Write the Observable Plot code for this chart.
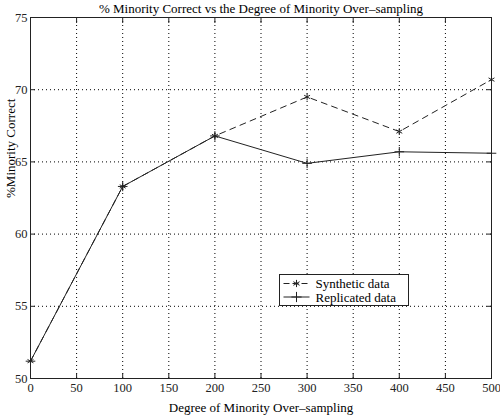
<!DOCTYPE html>
<html>
<head>
<meta charset="utf-8">
<script src="https://cdn.jsdelivr.net/npm/d3@7"></script>
<script src="https://cdn.jsdelivr.net/npm/@observablehq/plot@0.6"></script>
<style>
body { margin: 0; background: #fff; }
svg { font-family: "Liberation Serif", "DejaVu Serif", serif; }
</style>
</head>
<body>
<div id="chart"></div>
<script>
const degrees = [0, 100, 200, 300, 400, 500];
const synthetic = [51.2, 63.3, 66.8, 69.5, 67.1, 70.7];
const replicated = [51.2, 63.3, 66.8, 64.9, 65.7, 65.6];
const xTicks = [0, 50, 100, 150, 200, 250, 300, 350, 400, 450, 500];
const yTicks = [50, 55, 60, 65, 70, 75];
const seriesNames = ["Synthetic data", "Replicated data"];
const title = "% Minority Correct vs the Degree of Minority Over\u2013sampling";

const synData = degrees.map((d, i) => ({x: d, y: synthetic[i]}));
const repData = degrees.map((d, i) => ({x: d, y: replicated[i]}));

const ink = "#222";
const plot = Plot.plot({
  width: 500,
  height: 415,
  marginLeft: 30,
  marginRight: 9,
  marginTop: 17,
  marginBottom: 37,
  style: {fontFamily: "Liberation Serif, serif", fontSize: "12.5px", color: ink, background: "#fff"},
  x: {domain: [0, 500], ticks: xTicks},
  y: {domain: [50, 75], ticks: yTicks},
  marks: [
    Plot.gridX(xTicks.slice(1, -1), {stroke: "#000", strokeOpacity: 1, strokeDasharray: "1,3"}),
    Plot.gridY(yTicks.slice(1, -1), {stroke: "#000", strokeOpacity: 1, strokeDasharray: "1,3"}),
    Plot.axisX(xTicks, {anchor: "bottom", tickSize: -5, tickPadding: 10, label: null, fontSize: 12.5}),
    Plot.axisX(xTicks, {anchor: "top", tickSize: -5, tickFormat: () => "", label: null}),
    Plot.axisY(yTicks, {anchor: "left", tickSize: -5, tickPadding: 8, label: null, fontSize: 12.5}),
    Plot.axisY(yTicks, {anchor: "right", tickSize: -5, tickFormat: () => "", label: null}),
    Plot.frame({stroke: ink, strokeWidth: 1}),
    Plot.line(synData, {x: "x", y: "y", stroke: ink, strokeWidth: 1, strokeDasharray: "6,5"}),
    Plot.line(repData, {x: "x", y: "y", stroke: ink, strokeWidth: 1}),
    Plot.dot(synData, {x: "x", y: "y", symbol: "asterisk", r: 3.2, stroke: ink, strokeWidth: 1}),
    Plot.dot(repData, {x: "x", y: "y", symbol: "plus", r: 3.2, stroke: ink, strokeWidth: 1}),
    Plot.text([title], {frameAnchor: "top", dy: -9, lineAnchor: "middle", fontSize: 13, fill: "#000"}),
    Plot.text(["Degree of Minority Over\u2013sampling"], {frameAnchor: "bottom", dy: 29, lineAnchor: "middle", fontSize: 13, fill: "#000"}),
    Plot.text(["%Minority Correct"], {frameAnchor: "left", dx: -20, rotate: -90, lineAnchor: "middle", fontSize: 13, fill: "#000"})
  ]
});
document.getElementById("chart").appendChild(plot);

// legend box (inside plot area)
const svg = d3.select(plot);
const lg = svg.append("g").attr("transform", "translate(279.5,274.5)");
lg.append("rect").attr("width", 129).attr("height", 31).attr("fill", "#fff").attr("stroke", ink);
const symAst = d3.symbol(d3.symbolAsterisk, 36)();
const symPlus = d3.symbol(d3.symbolPlus, 36)();
seriesNames.forEach((name, i) => {
  const y = 9 + i * 13.5;
  lg.append("line").attr("x1", 4).attr("x2", 30).attr("y1", y).attr("y2", y)
    .attr("stroke", ink).attr("stroke-width", 1).attr("stroke-dasharray", i === 0 ? "6,3" : null);
  lg.append("path").attr("d", i === 0 ? symAst : symPlus)
    .attr("transform", `translate(17,${y})`).attr("fill", "none").attr("stroke", ink);
  lg.append("text").attr("x", 36).attr("y", y).attr("dy", "0.35em")
    .attr("text-anchor", "start").attr("font-size", 13).attr("fill", "#000").text(name);
});
</script>
</body>
</html>
